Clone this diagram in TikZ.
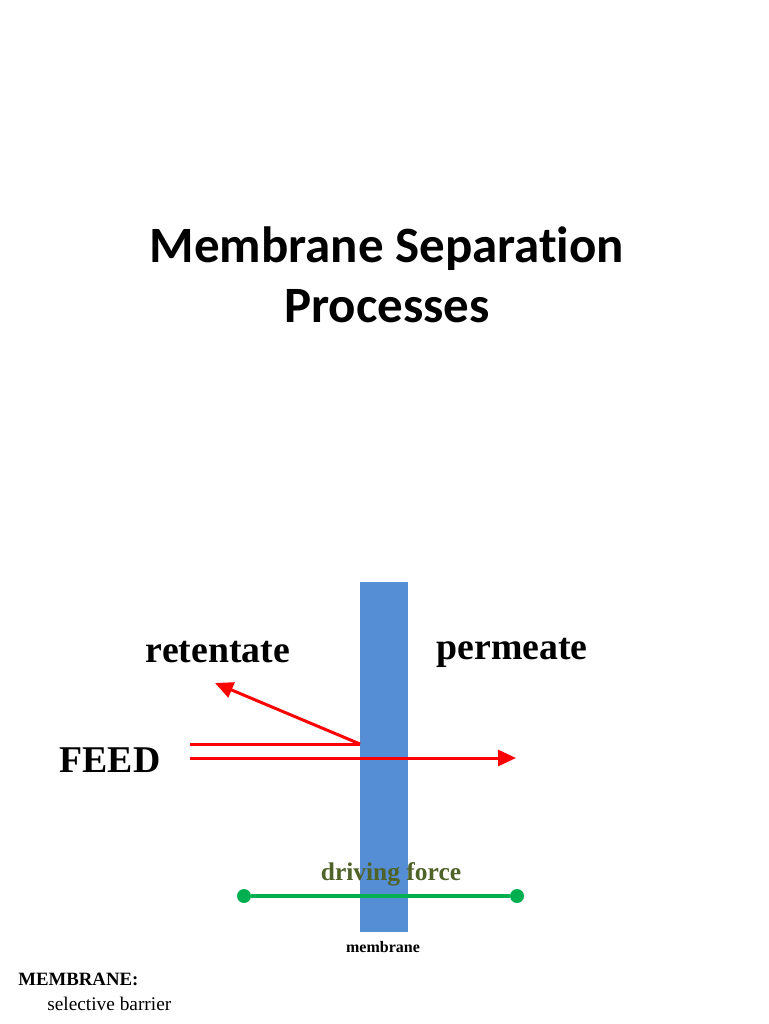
\documentclass[tikz,border=0pt]{standalone}
\usepackage{fontspec}
\setmainfont{Liberation Serif}
\newfontfamily\titlefont[Ligatures={NoCommon,NoContextual}]{Carlito}
\definecolor{memblue}{HTML}{558ED5}
\definecolor{flowred}{HTML}{FF0000}
\definecolor{forcegreen}{HTML}{00B050}
\definecolor{forceolive}{HTML}{4F6228}
\usepackage{tikz}
\usetikzlibrary{arrows.meta}

\begin{document}
\begin{tikzpicture}[x=0.02cm, y=-0.02cm,
  ttl/.style={font=\titlefont\bfseries\fontsize{29}{35}\selectfont, anchor=base, inner sep=0pt},
  stream/.style={font=\bfseries\fontsize{21.5}{26}\selectfont, anchor=base, inner sep=0pt},
  note/.style={anchor=base west, inner sep=0pt},
  flow/.style={draw=flowred, line width=1.7pt},
  flowarrow/.style={flow, -{Triangle[length=0.36cm, width=0.32cm]}},
  dot/.style={circle, fill=forcegreen, minimum size=0.28cm, inner sep=0pt},
]
\useasboundingbox (0,0) rectangle (768,1024);

\node[ttl] (title1) at (387,262) {Membrane Separat\kern0pt ion};
\node[ttl] (title2) at (387,322) {Processes};

\node[fill=memblue, minimum width=0.96cm, minimum height=7cm, inner sep=0pt] (mem) at (384,757) {};

\node[stream] (ret) at (218,662) {retentate};
\node[stream] (perm) at (512,659) {permeate};
\node[stream] (feed) at (110,772) {FEED};

\coordinate (feedtop) at (190,744);
\coordinate (feedbot) at (190,758);
\coordinate (hit) at (360,744);
\coordinate (retend) at (215,683);
\coordinate (permend) at (516,758);

\draw[flow] (feedtop) -- (hit);
\draw[flowarrow] (hit) -- (retend);
\draw[flowarrow] (feedbot) -- (permend);

\node[font=\bfseries\fontsize{14.5}{17}\selectfont, text=forceolive, anchor=base, inner sep=0pt] (force) at (391,880) {driving force};
\node[dot] (df1) at (244,896) {};
\node[dot] (df2) at (517,896) {};
\draw[forcegreen, line width=2.3pt] (df1) -- (df2);

\node[font=\bfseries\fontsize{9.1}{11}\selectfont, anchor=base, inner sep=0pt] (memlbl) at (383,952) {membrane};

\node[note, font=\bfseries\fontsize{10.7}{13}\selectfont] (def) at (18,985) {MEMBRANE:};
\node[note, font=\fontsize{11}{13}\selectfont] (sel) at (47,1010) {selective barrier};
\end{tikzpicture}
\end{document}
